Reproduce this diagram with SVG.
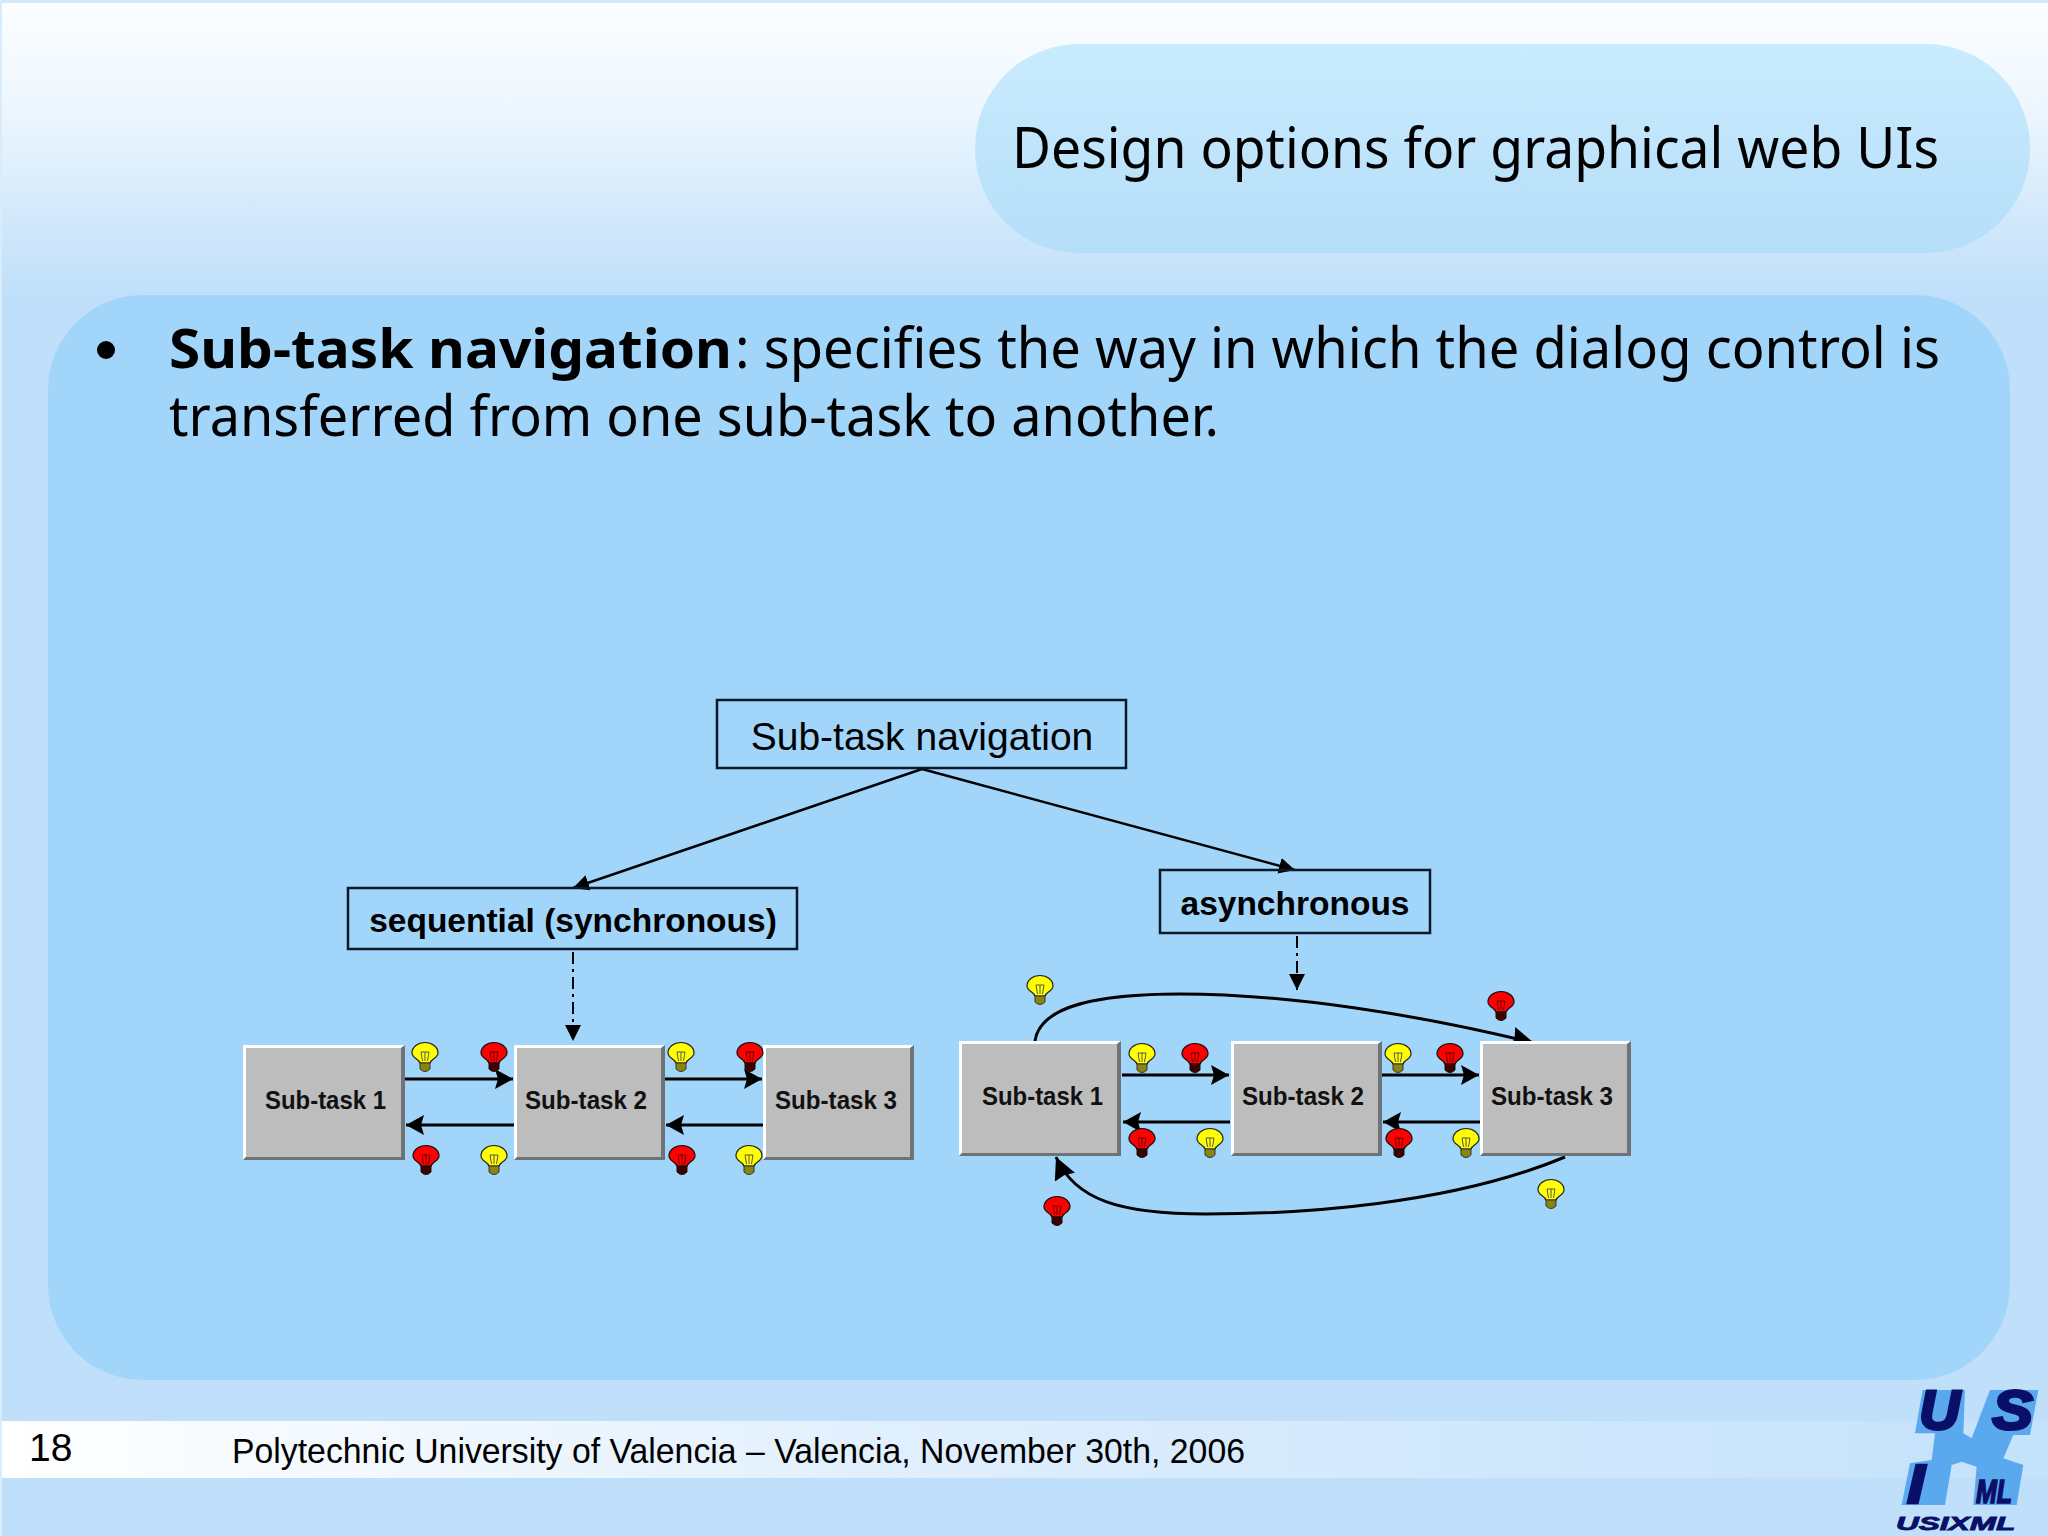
<svg xmlns="http://www.w3.org/2000/svg" width="2048" height="1536" viewBox="0 0 2048 1536">
<style>
.s{font-family:"Liberation Sans",Arial,sans-serif;fill:#000}
.t{font-family:"Noto Sans","DejaVu Sans",sans-serif;fill:#000}
.box{fill:none;stroke:#0a1a2a;stroke-width:2.5}
.st{font-family:"Liberation Sans",Arial,sans-serif;font-weight:700;font-size:25px;fill:#111}
.ln{fill:none;stroke:#000;stroke-width:3}
.lg{font-family:"Liberation Sans",Arial,sans-serif;font-weight:700;font-style:italic;fill:#0a1068;stroke:#0a1068}
</style>
<defs>
<linearGradient id="bg" x1="0" y1="0" x2="0" y2="1"><stop offset="0" stop-color="#fcfeff"/><stop offset=".35" stop-color="#eef7fe"/><stop offset="1" stop-color="#bfdffa"/></linearGradient>
<linearGradient id="pill" x1="0" y1="0" x2="0" y2="1"><stop offset="0" stop-color="#c9ebfe"/><stop offset="1" stop-color="#b5def9"/></linearGradient>
<linearGradient id="foot" x1="0" y1="0" x2="1" y2="0"><stop offset="0" stop-color="#ffffff"/><stop offset=".5" stop-color="#dcedfd"/><stop offset="1" stop-color="#c4e2fb"/></linearGradient>
<marker id="a" markerUnits="userSpaceOnUse" markerWidth="20" markerHeight="22" refX="18" refY="10" orient="auto"><path d="M0 0L18 10L0 20L3 10Z" fill="#000"/></marker>
<marker id="c" markerUnits="userSpaceOnUse" markerWidth="24" markerHeight="24" refX="22" refY="11" orient="auto"><path d="M0 0L22 11L0 22L2 11Z" fill="#000"/></marker>
<marker id="b" markerUnits="userSpaceOnUse" markerWidth="18" markerHeight="18" refX="16" refY="8" orient="auto"><path d="M0 0L16 8L0 16Z" fill="#000"/></marker>
<symbol id="y" overflow="visible"><path d="M-5 20C-6 16-13 15-13 10A13 10.500 0 0 1 13 10C13 15 6 16 5 20Z" fill="#ffff00" stroke="#222" stroke-width="1.200"/><path d="M-5 20H5V26Q0 31-5 26Z" fill="#8a8410" stroke="#333" stroke-width="1"/><path d="M-4 9H4L2.500 18M-4 9L-2.500 18M0 9V18" fill="none" stroke="#555" stroke-width="1"/></symbol>
<symbol id="r" overflow="visible"><path d="M-5 20C-6 16-13 15-13 10A13 10.500 0 0 1 13 10C13 15 6 16 5 20Z" fill="#ff0000" stroke="#111" stroke-width="1.200"/><path d="M-5 20H5V26Q0 31-5 26Z" fill="#400000" stroke="#111" stroke-width="1"/><path d="M-4 9H4L2.500 18M-4 9L-2.500 18M0 9V18" fill="none" stroke="#600" stroke-width="1"/></symbol>
<symbol id="tb" overflow="visible"><rect width="162" height="115" fill="#bdbdbd"/><path d="M0 0H162L158 3H3V112L0 115Z" fill="#fff"/><path d="M162 0V115H0L3 112H158V3Z" fill="#6e7378"/></symbol>
<symbol id="tb2" overflow="visible"><rect width="151" height="115" fill="#bdbdbd"/><path d="M0 0H151L147 3H3V112L0 115Z" fill="#fff"/><path d="M151 0V115H0L3 112H147V3Z" fill="#6e7378"/></symbol>
</defs>

<rect width="2048" height="1536" fill="#bfdffa"/>
<rect width="2048" height="295" fill="url(#bg)"/>
<rect width="2048" height="3" fill="#cfe9fb"/>
<rect width="2" height="1536" fill="#d8ecfc"/>
<rect id="title-pill" x="975" y="44" width="1055" height="209" rx="104" fill="url(#pill)"/>
<text class="t" x="1012" y="168" font-size="57" textLength="927" lengthAdjust="spacingAndGlyphs">Design options for graphical web UIs</text>
<rect id="panel" x="48" y="295" width="1962" height="1085" rx="95" fill="#a2d5fa"/>
<rect id="footer" x="2" y="1421" width="2046" height="57" fill="url(#foot)"/>

<circle cx="106" cy="350" r="9" fill="#000"/>
<text class="t" x="169" y="368" font-size="54" font-weight="700" textLength="563" lengthAdjust="spacingAndGlyphs">Sub-task navigation</text>
<text class="t" x="735" y="368" font-size="57" textLength="1205" lengthAdjust="spacingAndGlyphs">: specifies the way in which the dialog control is</text>
<text class="t" x="169" y="436" font-size="57" textLength="1050" lengthAdjust="spacingAndGlyphs">transferred from one sub-task to another.</text>

<g id="connectors">
<path class="ln" style="stroke-width:2.500" marker-end="url(#b)" d="M922 769L573 888"/>
<path class="ln" style="stroke-width:2.500" marker-end="url(#b)" d="M922 769L1295 870"/>
<path class="ln" style="stroke-width:2" stroke-dasharray="12 5 3 5" marker-end="url(#b)" d="M573 952V1041"/>
<path class="ln" style="stroke-width:2" stroke-dasharray="12 5 3 5" marker-end="url(#b)" d="M1297 936V990"/>
<path class="ln" marker-end="url(#a)" d="M405 1079H513"/>
<path class="ln" marker-end="url(#a)" d="M665 1079H762"/>
<path class="ln" marker-end="url(#a)" d="M514 1125H406"/>
<path class="ln" marker-end="url(#a)" d="M763 1125H666"/>
<path class="ln" marker-end="url(#a)" d="M1122 1075H1229"/>
<path class="ln" marker-end="url(#a)" d="M1382 1075H1479"/>
<path class="ln" marker-end="url(#a)" d="M1230 1122H1123"/>
<path class="ln" marker-end="url(#a)" d="M1480 1122H1383"/>
<path class="ln" marker-end="url(#c)" d="M1035 1041C1040 1005 1100 994 1180 994C1290 994 1420 1015 1534 1043"/>
<path class="ln" marker-end="url(#c)" d="M1565 1157C1450 1205 1300 1214 1206 1214C1120 1214 1075 1200 1056 1157"/>
</g>

<g id="n-root"><rect class="box" x="717" y="700" width="409" height="68"/><text class="s" x="922" y="750" font-size="39" text-anchor="middle">Sub-task navigation</text></g>
<g id="n-seq"><rect class="box" x="348" y="888" width="449" height="61"/><text class="s" x="573" y="932" font-size="33.500" font-weight="700" text-anchor="middle">sequential (synchronous)</text></g>
<g id="n-async"><rect class="box" x="1160" y="870" width="270" height="63"/><text class="s" x="1295" y="915" font-size="33.500" font-weight="700" text-anchor="middle">asynchronous</text></g>

<g id="seq-task-1"><use href="#tb" x="243" y="1045"/><text class="st" x="265" y="1109" textLength="121" lengthAdjust="spacingAndGlyphs">Sub-task 1</text></g>
<g id="seq-task-2"><use href="#tb2" x="514" y="1045"/><text class="st" x="525" y="1109" textLength="122" lengthAdjust="spacingAndGlyphs">Sub-task 2</text></g>
<g id="seq-task-3"><use href="#tb2" x="763" y="1045"/><text class="st" x="775" y="1109" textLength="122" lengthAdjust="spacingAndGlyphs">Sub-task 3</text></g>
<g id="async-task-1"><use href="#tb" x="959" y="1041"/><text class="st" x="982" y="1105" textLength="121" lengthAdjust="spacingAndGlyphs">Sub-task 1</text></g>
<g id="async-task-2"><use href="#tb2" x="1231" y="1041"/><text class="st" x="1242" y="1105" textLength="122" lengthAdjust="spacingAndGlyphs">Sub-task 2</text></g>
<g id="async-task-3"><use href="#tb2" x="1480" y="1041"/><text class="st" x="1491" y="1105" textLength="122" lengthAdjust="spacingAndGlyphs">Sub-task 3</text></g>

<g id="bulbs">
<use href="#y" x="425" y="1043"/><use href="#r" x="494" y="1043"/><use href="#y" x="681" y="1043"/><use href="#r" x="750" y="1043"/>
<use href="#r" x="426" y="1146"/><use href="#y" x="494" y="1146"/><use href="#r" x="682" y="1146"/><use href="#y" x="749" y="1146"/>
<use href="#y" x="1142" y="1044"/><use href="#r" x="1195" y="1044"/><use href="#y" x="1398" y="1044"/><use href="#r" x="1450" y="1044"/>
<use href="#r" x="1142" y="1129"/><use href="#y" x="1210" y="1129"/><use href="#r" x="1399" y="1129"/><use href="#y" x="1466" y="1129"/>
<use href="#y" x="1040" y="976"/><use href="#r" x="1501" y="992"/><use href="#y" x="1551" y="1180"/><use href="#r" x="1057" y="1197"/>
</g>

<text class="s" x="29" y="1461" font-size="39">18</text>
<text class="s" x="232" y="1463" font-size="34.500" textLength="1013" lengthAdjust="spacingAndGlyphs">Polytechnic University of Valencia – Valencia, November 30th, 2006</text>

<g id="logo" transform="translate(1880 1370) scale(.3333)">
<path d="M128 60H255L250 190L275 205L330 60H475L450 195H400L370 265L430 285L410 405H280L290 290L245 275L215 285L195 405H65L90 280L155 270L165 190H105Z" fill="#5aa8ee"/>
<text class="lg" x="118" y="178" font-size="165" stroke-width="9" textLength="122" lengthAdjust="spacingAndGlyphs">U</text>
<text class="lg" x="337" y="178" font-size="165" stroke-width="9" textLength="122" lengthAdjust="spacingAndGlyphs">S</text>
<text class="lg" x="80" y="398" font-size="165" stroke-width="7" textLength="55" lengthAdjust="spacingAndGlyphs">I</text>
<text class="lg" x="288" y="400" font-size="98" stroke-width="5" textLength="108" lengthAdjust="spacingAndGlyphs">ML</text>
<text class="lg" x="48" y="480" font-size="54" stroke-width="2.500" textLength="358" lengthAdjust="spacingAndGlyphs">USIXML</text>
</g>
</svg>
